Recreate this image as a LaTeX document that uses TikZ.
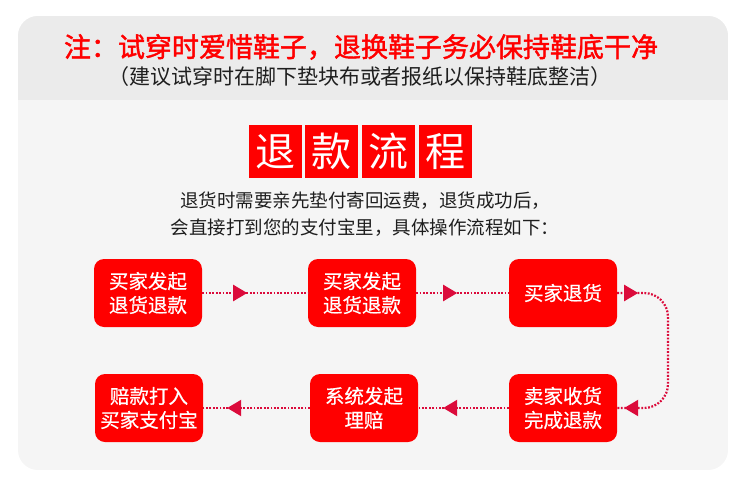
\documentclass[tikz,border=0pt]{standalone}
\usepackage{fontspec}
\setmainfont{Noto Sans CJK SC}
\newfontfamily\halbfett[FakeBold=1.6]{Noto Sans CJK SC}
\newfontfamily\leichtfett[FakeBold=0.6]{Noto Sans CJK SC}
\usetikzlibrary{arrows.meta,decorations.markings}
\definecolor{signal}{HTML}{FF0000}
\definecolor{pfeilrot}{HTML}{DB0B3B}
\definecolor{kopfgrau}{HTML}{EBEBEB}
\definecolor{flaeche}{HTML}{F5F5F5}
\definecolor{ink}{HTML}{1E1E1E}
\newcommand{\kopf}{\fontsize{27}{32}\selectfont\halbfett}
\newcommand{\unter}{\fontsize{21}{25}\selectfont}
\newcommand{\titel}{\fontsize{40}{44}\selectfont}
\newcommand{\fliess}{\fontsize{18.5}{22}\selectfont}
\newcommand{\kasten}{\fontsize{19.5}{24}\selectfont\leichtfett}
\tikzset{schritt/.style={fill=signal,rounded corners=10pt,minimum width=108pt,
    minimum height=68pt,inner sep=0,text=white,align=center,font=\kasten},
  titelfeld/.style={fill=signal,minimum size=53pt,inner sep=0,text=white,font=\titel},
  fluss/.style={pfeilrot,line width=2.2pt,dash pattern=on 1.8pt off 1.6pt},
  spitze/.style={postaction={decorate,decoration={markings,
    mark=at position #1 with {\arrow{Triangle[length=14pt,width=16pt]}}}}}}

\begin{document}
\begin{tikzpicture}[x=1pt,y=-1pt]
\useasboundingbox (0,0) rectangle (750,482);
% Karte mit grauem Kopf; Ablauf in zwei Reihen, rechts per Bogen verbunden
\begin{scope}
  \clip[rounded corners=20pt] (18,16) rectangle (728,470);
  \fill[flaeche] (18,16) rectangle (728,470);
  \fill[kopfgrau] (18,16) rectangle (728,100);
\end{scope}
\node[inner sep=0,text=signal,font=\kopf] (hinweis) at (361,47) {注：试穿时爱惜鞋子，退换鞋子务必保持鞋底干净};
\node[inner sep=0,text=ink,font=\unter] (tipp) at (360,77) {（建议试穿时在脚下垫块布或者报纸以保持鞋底整洁）};
\foreach \zeichen [count=\i] in {退,款,流,程}
  \node[titelfeld] (t\i) at ({218.2+56.8*\i},151.5) {\zeichen};
\node[inner sep=0,text=ink,font=\fliess] (info1) at (365,201) {退货时需要亲先垫付寄回运费，退货成功后，};
\node[inner sep=0,text=ink,font=\fliess] (info2) at (365,228) {会直接打到您的支付宝里，具体操作流程如下：};
\node[schritt] (s1) at (148,293) {买家发起\\退货退款};
\node[schritt] (s2) at (362,293) {买家发起\\退货退款};
\node[schritt] (s3) at (563,293) {买家退货};
\node[schritt] (s4) at (563,408) {卖家收货\\完成退款};
\node[schritt] (s5) at (364,408) {系统发起\\理赔};
\node[schritt] (s6) at (149,408) {赔款打入\\买家支付宝};
\coordinate (bogen) at (668,350);
\draw[fluss,spitze=45pt] (s1) -- (s2);
\draw[fluss,spitze=41pt] (s2) -- (s3);
\draw[fluss,rounded corners=24pt,spitze=21pt,spitze=-7pt] (s3.east) -| (bogen) |- (s4.east);
\draw[fluss,spitze=-25pt] (s4) -- (s5);
\draw[fluss,spitze=-24pt] (s5) -- (s6);
\end{tikzpicture}
\end{document}
